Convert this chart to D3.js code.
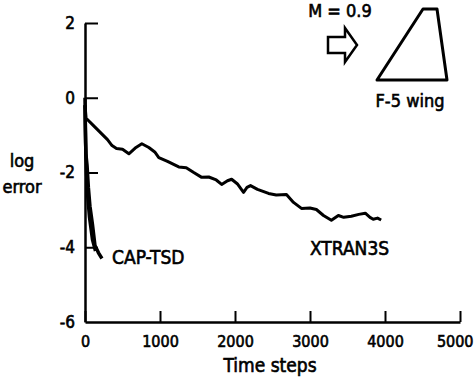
<!DOCTYPE html>
<html><head><meta charset="utf-8">
<script src="https://cdn.jsdelivr.net/npm/d3@7"></script>
<style>body{margin:0;background:#fff}svg{display:block}text{font-family:"DejaVu Sans Condensed","DejaVu Sans",sans-serif;fill:#000;stroke:#000;stroke-width:0.6px}</style>
</head><body><svg id="c" width="474" height="379"></svg>
<script>
const xTicks = [0, 1000, 2000, 3000, 4000, 5000];
const yTicks = [2, 0, -2, -4, -6];
const xtranT = [0,15,100,190,300,360,420,500,585,680,758,851,930,984,1100,1250,1350,1450,1556,1650,1750,1822,1900,1955,2030,2114,2160,2207,2300,2447,2550,2686,2780,2886,3000,3085,3180,3285,3378,3450,3551,3650,3737,3800,3843,3900,3949];
const xtranE = [-0.2,-0.55,-0.72,-0.9,-1.12,-1.28,-1.36,-1.38,-1.5,-1.33,-1.23,-1.33,-1.45,-1.6,-1.7,-1.85,-1.87,-2.0,-2.13,-2.12,-2.2,-2.32,-2.22,-2.18,-2.3,-2.53,-2.4,-2.35,-2.45,-2.56,-2.6,-2.59,-2.8,-2.96,-2.95,-2.99,-3.15,-3.28,-3.15,-3.2,-3.17,-3.12,-3.09,-3.2,-3.25,-3.22,-3.27];
const capT1 = [0,5,12,27,45,66,100,133,180,226];
const capE1 = [0,-0.8,-1.5,-1.8,-2.4,-2.9,-3.4,-3.95,-4.15,-4.3];
const capT2 = [0,8,20,35,60,100,140];
const capE2 = [-0.2,-1.2,-2.0,-2.6,-3.2,-3.8,-4.1];

const svg = d3.select("#c");
const x = d3.scaleLinear().domain([0,5000]).range([85,460]);
const y = d3.scaleLinear().domain([-6,2]).range([322,23]);

const xAxis = d3.axisBottom(x).tickValues(xTicks).tickSizeInner(-11).tickSizeOuter(0).tickPadding(15).tickFormat(d3.format("d"));
const gx = svg.append("g").attr("transform",`translate(0,${y(-6)})`).call(xAxis);
gx.select(".domain").attr("stroke","#000").attr("stroke-width",2.5);
gx.selectAll(".tick line").attr("stroke","#000").attr("stroke-width",2);
gx.selectAll(".tick text").attr("font-size",16).attr("dy","0.75em").attr("y",13);
gx.selectAll(".tick").filter(d=>d===5000).select("text").attr("text-anchor","end").attr("x",13);

const yAxis = d3.axisLeft(y).tickValues(yTicks).tickSizeInner(-13).tickSizeOuter(0).tickPadding(12).tickFormat(d=>d<0?"-"+Math.abs(d):d);
const gy = svg.append("g").attr("transform",`translate(${x(0)},0)`).call(yAxis);
gy.select(".domain").attr("stroke","#000").attr("stroke-width",2.5);
gy.selectAll(".tick line").attr("stroke","#000").attr("stroke-width",2);
gy.selectAll(".tick text").attr("font-size",17).attr("x",-10);
gy.selectAll(".tick").filter(d=>d===-6).select("line").remove();

const line = d3.line().x(d=>x(d[0])).y(d=>y(d[1]));
svg.append("path").datum(xtranT.map((t,i)=>[t,xtranE[i]])).attr("d",line)
  .attr("fill","none").attr("stroke","#000").attr("stroke-width",3).attr("stroke-linejoin","round");
svg.append("path").datum(capT1.map((t,i)=>[t,capE1[i]])).attr("d",line)
  .attr("fill","none").attr("stroke","#000").attr("stroke-width",3.5);
svg.append("path").datum(capT2.map((t,i)=>[t,capE2[i]])).attr("d",line)
  .attr("fill","none").attr("stroke","#000").attr("stroke-width",3.5);

svg.append("text").attr("x",x(360)).attr("y",y(-4.3)+6).attr("font-size",19).text("CAP-TSD");
svg.append("text").attr("x",x(3000)).attr("y",y(-4)+8).attr("font-size",19).text("XTRAN3S");
svg.append("text").attr("x",22).attr("y",167).attr("font-size",18).attr("text-anchor","middle").text("log");
svg.append("text").attr("x",22).attr("y",193).attr("font-size",18).attr("text-anchor","middle").text("error");
svg.append("text").attr("x",x(2000)+35).attr("y",372).attr("font-size",19).attr("text-anchor","middle").text("Time steps");

svg.append("text").attr("x",340).attr("y",17).attr("font-size",18).attr("text-anchor","middle").text("M = 0.9");
svg.append("text").attr("x",410).attr("y",107).attr("font-size",18).attr("text-anchor","middle").text("F-5 wing");
svg.append("path").attr("d","M377,80 L423,9 L437,9 L447,80 Z").attr("fill","none").attr("stroke","#000").attr("stroke-width",3).attr("stroke-linejoin","round");
svg.append("path").attr("d","M328,37 L345,37 L345,28 L357,45 L345,62 L345,53 L328,53 Z").attr("fill","none").attr("stroke","#000").attr("stroke-width",2.5);
</script></body></html>
